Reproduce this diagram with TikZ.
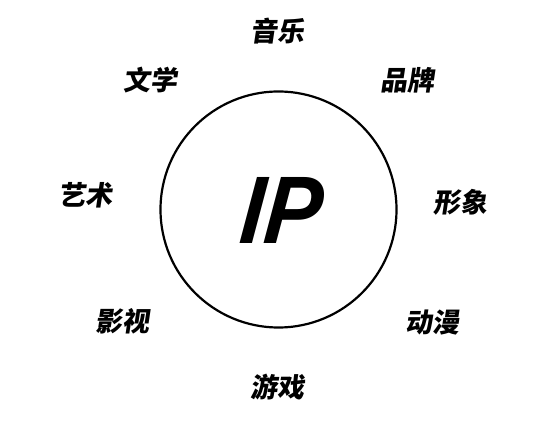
\documentclass[tikz,border=0pt]{standalone}
\usepackage{fontspec}
\setmainfont{Liberation Sans}
\newfontfamily\cjk[FakeSlant=0.15]{Noto Sans CJK SC}
\newfontfamily\ipfont[FakeSlant=0.1]{Liberation Sans}
\begin{document}
\begin{tikzpicture}[x=1pt,y=-1pt,
  lbl/.style={font=\cjk\bfseries\fontsize{27}{27}\selectfont, inner sep=0pt, anchor=center},
  ring/.style={circle, draw=black, line width=2.2pt, minimum size=236pt, inner sep=0pt}]
\useasboundingbox (0,0) rectangle (537,427);
\node[ring] (c) at (278.5,209.5) {};
\node[font=\ipfont\bfseries\itshape\fontsize{96}{96}\selectfont, inner sep=0pt, xscale=0.9] (ip) at (279,210) {IP};
\node[lbl] (m) at (277,31) {音乐};
\node[lbl] (w) at (150,80) {文学};
\node[lbl] (b) at (407,80) {品牌};
\node[lbl] (y) at (85,195) {艺术};
\node[lbl] (x) at (460,202) {形象};
\node[lbl] (s) at (122,321) {影视};
\node[lbl] (d) at (432,323) {动漫};
\node[lbl] (g) at (277,387) {游戏};
\end{tikzpicture}
\end{document}
